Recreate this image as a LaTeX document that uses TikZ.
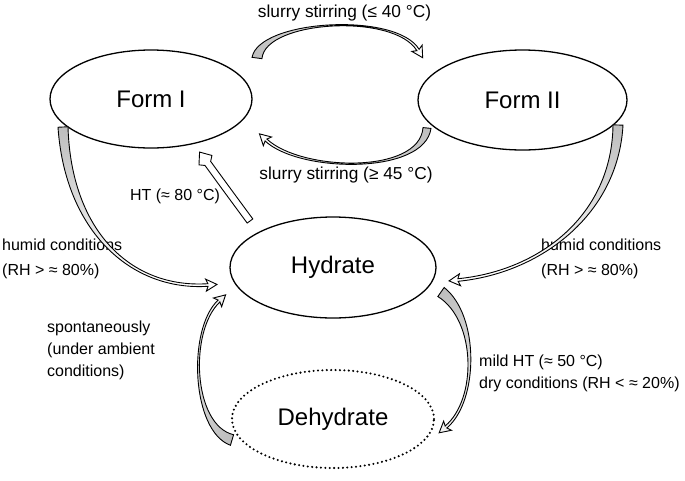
\documentclass[tikz,border=0pt]{standalone}
\usepackage{fontspec}
\setmainfont{Liberation Sans}
\usetikzlibrary{calc,shapes.geometric}
\definecolor{tailgray}{RGB}{190,190,190}
\def\barbback{2}
\newcommand\mkarrow[9]{%
 \coordinate (P0) at #1;
 \coordinate (P1) at #2;
 \coordinate (P2) at #3;
 \coordinate (P3) at #4;
 \coordinate (A0) at ($(P0)!#5pt!90:(P1)$);
 \coordinate (B0) at ($(P0)!#5pt!-90:(P1)$);
 \coordinate (A1) at ($(P1)!#6pt!-90:(P0)$);
 \coordinate (B1) at ($(P1)!#6pt!90:(P0)$);
 \coordinate (A2) at ($(P2)!#7pt!90:(P3)$);
 \coordinate (B2) at ($(P2)!#7pt!-90:(P3)$);
 \coordinate (A3) at ($(P3)!#7pt!-90:(P2)$);
 \coordinate (B3) at ($(P3)!#7pt!90:(P2)$);
 \coordinate (T) at ($(P3)!-#9pt!(P2)$);
 \coordinate (Q) at ($(P3)!\barbback pt!(P2)$);
 \coordinate (HA) at ($(Q)!#8pt!90:(T)$);
 \coordinate (HB) at ($(Q)!#8pt!-90:(T)$);
}
\newcommand\arrowpath{(A0) .. controls (A1) and (A2) .. (A3) -- (HA) -- (T) -- (HB) -- (B3) .. controls (B2) and (B1) .. (B0) -- cycle}
\newcommand\grayarrow{%
 \begin{scope}
  \clip \arrowpath;
  \shade[inner color=tailgray, outer color=white] (P0) circle (170pt);
 \end{scope}
 \draw[arrline] \arrowpath;}
\tikzset{
 state/.style={ellipse, draw, line width=1.3pt, inner sep=0pt, font=\fontsize{24}{28}\selectfont},
 lbl/.style={inner sep=0pt, font=\fontsize{16}{19}\selectfont},
 arrline/.style={draw=black, line width=0.9pt, line join=miter, fill=none},
 dottedline/.style={line width=2.3pt, dash pattern=on 0pt off 4.4pt, line cap=round}
}
\begin{document}
\begin{tikzpicture}[x=1pt,y=-1pt]
\fill[white] (0,0) rectangle (685,480);
\useasboundingbox (0,0) rectangle (685,480);

\node[state, minimum width=202pt, minimum height=98pt] (f1) at (151,99) {Form I};
\node[state, minimum width=209pt, minimum height=100pt] (f2) at (522.5,100) {Form II};
\node[state, minimum width=206pt, minimum height=101pt] (hyd) at (333,267.5) {Hydrate};
\node[state, draw=none, minimum width=202pt, minimum height=98pt] (dehyd) at (333,419) {Dehydrate};
\draw[dottedline] (dehyd.center) ellipse [x radius=101pt, y radius=49pt];

% labels
\node[lbl, font=\fontsize{17.3}{20}\selectfont] (t1) at (344.5,13) {slurry stirring (≤ 40 °C)};
\node[lbl, font=\fontsize{17.3}{20}\selectfont] (t2) at (346,175) {slurry stirring (≥ 45 °C)};
\node[lbl] (t3) at (175,196) {HT (≈ 80 °C)};
\node[lbl, anchor=west, align=left, font=\fontsize{16}{25}\selectfont] (t4) at (2,258.5) {humid conditions\\(RH > ≈ 80\%)};
\node[lbl, anchor=west, align=left, font=\fontsize{16}{25}\selectfont] (t5) at (541,259) {humid conditions\\(RH > ≈ 80\%)};
\node[lbl, anchor=west, align=left, font=\fontsize{16}{22}\selectfont] (t6) at (47,350) {spontaneously\\(under ambient\\conditions)};
\node[lbl, anchor=west, align=left, font=\fontsize{16}{22}\selectfont] (t7) at (479,373) {mild HT (≈ 50 °C)\\dry conditions (RH < ≈ 20\%)};

% Form I -> Form II (top)
\mkarrow{(257,58)}{(262,20)}{(395,12)}{(418,50)}{5}{3}{1.3}{6}{9}
\grayarrow
% Form II -> Form I
\mkarrow{(427,128)}{(422,175)}{(300,172)}{(266,140)}{4}{2.5}{1.3}{6}{9}
\grayarrow
% Form I -> Hydrate
\mkarrow{(63,127)}{(68,230)}{(130,290)}{(208,285)}{5}{3}{1.3}{6}{9}
\grayarrow
% Form II -> Hydrate
\mkarrow{(618,125)}{(615,215)}{(540,272)}{(458,280)}{5}{3}{1.3}{6}{9}
\grayarrow
% Hydrate -> Dehydrate
\mkarrow{(441,292)}{(478,318)}{(478,400)}{(446,427)}{5.5}{3}{1.3}{6}{9}
\grayarrow
% Dehydrate -> Hydrate
\mkarrow{(232,440)}{(192,428)}{(188,330)}{(219,301)}{5.5}{3}{1.3}{6}{9}
\grayarrow
% Hydrate -> Form I (HT)
\def\barbback{-4}
\mkarrow{(250,221)}{(236,202)}{(222,183)}{(207.8,163.4)}{3.5}{3.5}{3.5}{8}{14}
\draw[arrline, fill=white] \arrowpath;
\end{tikzpicture}
\end{document}
